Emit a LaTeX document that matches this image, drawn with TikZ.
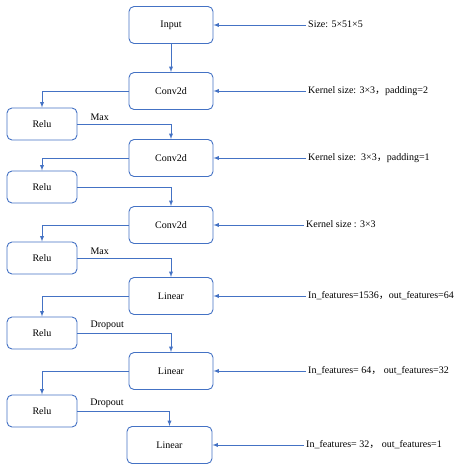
\documentclass[tikz,border=0pt]{standalone}
\usepackage{fontspec}
\setmainfont{Liberation Serif}
\newfontfamily\cjk{Noto Sans CJK SC}
\usepackage{pgf,tikz}
\usetikzlibrary{arrows,positioning}
\definecolor{azulcapa}{RGB}{68,114,196}
\tikzstyle{capa} = [draw=azulcapa, line width=0.9pt, rectangle, rounded corners=5pt, minimum width=84pt, minimum height=37pt, inner sep=2pt]
\tikzstyle{activa} = [capa, minimum width=70pt, minimum height=32pt]
\tikzstyle{nota} = [anchor=west, inner sep=2pt, text height=7pt, text depth=2pt]
\tikzstyle{flecha} = [draw=azulcapa, line width=0.9pt, -latex]
\newcommand{\coma}{{\cjk ，}}
\begin{document}
\begin{tikzpicture}
\useasboundingbox (0,0) rectangle (474pt,-470pt);
% capas principales
\node[capa] (in) at (171pt,-25pt) {Input};
\node[capa] (cv1) at (171pt,-91pt) {Conv2d};
\node[activa] (re1) at (42pt,-124pt) {Relu};
\node[capa] (cv2) at (171pt,-158pt) {Conv2d};
\node[activa] (re2) at (42pt,-187pt) {Relu};
\node[capa] (cv3) at (171pt,-225pt) {Conv2d};
\node[activa] (re3) at (42pt,-258pt) {Relu};
\node[capa] (ln1) at (171pt,-296pt) {Linear};
\node[activa] (re4) at (42pt,-333pt) {Relu};
\node[capa] (ln2) at (171pt,-371pt) {Linear};
\node[activa] (re5) at (42pt,-411pt) {Relu};
\node[capa, minimum width=85pt] (ln3) at (169.5pt,-445pt) {Linear};
% parametros
\node[nota] (t0) at (306pt,-25pt) {Size: 5×51×5};
\node[nota] (t1) at (306pt,-91pt) {Kernel size: 3×3\coma padding=2};
\node[nota] (t2) at (306pt,-158pt) {Kernel size:\ \ 3×3\coma padding=1};
\node[nota] (t3) at (304pt,-225pt) {Kernel size : 3×3};
\node[nota] (t4) at (306pt,-296pt) {In\_features=1536\coma out\_features=64};
\node[nota] (t5) at (306pt,-371pt) {In\_features= 64\coma\ out\_features=32};
\node[nota] (t6) at (304pt,-445pt) {In\_features= 32\coma\ out\_features=1};
% flujo
\draw[flecha] (in) -- (cv1);
\draw[flecha] (cv1.west) -| (re1.north);
\draw[flecha] (re1.east) -| node[pos=0.05, anchor=south west] {Max} (cv2.north);
\draw[flecha] (cv2.west) -| (re2.north);
\draw[flecha] (re2.east) -| (cv3.north);
\draw[flecha] (cv3.west) -| (re3.north);
\draw[flecha] (re3.east) -| node[pos=0.05, anchor=south west] {Max} (ln1.north);
\draw[flecha] (ln1.west) -| (re4.north);
\draw[flecha] (re4.east) -| node[pos=0.05, anchor=south west] {Dropout} (ln2.north);
\draw[flecha] (ln2.west) -| (re5.north);
\draw[flecha] (re5.east) -| node[pos=0.05, anchor=south west] {Dropout} (ln3.north);
% entradas de parametros
\foreach \t/\c in {t0/in, t1/cv1, t2/cv2, t3/cv3, t4/ln1, t5/ln2, t6/ln3}
  \draw[flecha] (\t.west) -- (\c.east);
\end{tikzpicture}
\end{document}
